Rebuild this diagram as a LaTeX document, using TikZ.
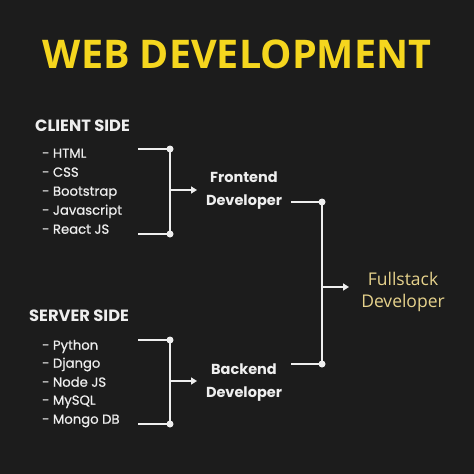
\documentclass[tikz,border=0pt]{standalone}
\usepackage{fontspec}
\setmainfont{Poppins}
\newfontfamily\titlefont{Open Sans}
\newfontfamily\fsfont{Open Sans}
\newfontfamily\itemfont[FakeBold=0.6]{Poppins}
\usetikzlibrary{arrows.meta}
\definecolor{bg}{HTML}{1C1C1C}
\definecolor{ttl}{HTML}{F5D61E}
\definecolor{fg}{HTML}{EEEEEE}
\definecolor{fs}{HTML}{E6D28C}
\tikzset{
  item/.style={anchor=mid west, inner sep=0pt, text=fg, font=\itemfont\fontsize{13.2}{15}\selectfont},
  head/.style={anchor=mid west, inner sep=0pt, text=fg, font=\bfseries\fontsize{16.3}{18}\selectfont},
  role/.style={align=center, inner sep=0pt, text=fg, font=\bfseries\fontsize{14.5}{23}\selectfont},
  wire/.style={draw=fg, line width=1.8pt},
  arr/.style={draw=fg, line width=1.8pt, -{Triangle[width=7pt,length=6pt]}},
  dot/.style={circle, fill=fg, inner sep=0pt, minimum size=7pt},
}
\begin{document}
\begin{tikzpicture}[x=1pt,y=-1pt]
\fill[bg] (0,0) rectangle (474,474);
\useasboundingbox (0,0) rectangle (474,474);

\node[text=ttl, font=\titlefont\bfseries\fontsize{39.5}{42}\selectfont] (title) at (237,54) {WEB DEVELOPMENT};

% client side
\node[head] (client) at (35,129) {CLIENT SIDE};
\node[item] (i1) at (42,155) {- HTML};
\node[item] (i2) at (42,174) {- CSS};
\node[item] (i3) at (42,193) {- Bootstrap};
\node[item] (i4) at (42,212) {- Javascript};
\node[item] (i5) at (42,231) {- React JS};

% server side
\node[head] (server) at (29,319) {SERVER SIDE};
\node[item] (j1) at (42,347) {- Python};
\node[item] (j2) at (42,365) {- Django};
\node[item] (j3) at (42,384) {- Node JS};
\node[item] (j4) at (42,402) {- MySQL};
\node[item] (j5) at (42,421) {- Mongo DB};

% roles
\node[role] (fe) at (244,191) {Frontend\\Developer};
\node[role] (be) at (244,383) {Backend\\Developer};
\node[align=center, inner sep=0pt, text=fs, font=\fsfont\fontsize{17.5}{22}\selectfont] (full) at (403,292) {Fullstack\\Developer};

% client bracket
\coordinate (ca) at (138,149);
\coordinate (cb) at (138,234);
\node[dot] (ct) at (170,149) {};
\node[dot] (cd) at (170,234) {};
\coordinate (cm) at (170,190);
\coordinate (fetip) at (197,190);
\draw[wire] (ca) -- (ct.center) -- (cd.center) -- (cb);
\draw[arr] (cm) -- (fetip);

% server bracket
\coordinate (sa) at (138,340);
\coordinate (sb) at (138,424);
\node[dot] (st) at (170,340) {};
\node[dot] (sd) at (170,424) {};
\coordinate (sm) at (170,381);
\coordinate (betip) at (197,381);
\draw[wire] (sa) -- (st.center) -- (sd.center) -- (sb);
\draw[arr] (sm) -- (betip);

% fullstack bracket
\coordinate (fa) at (291,202);
\coordinate (ba) at (291,364);
\node[dot] (ft) at (322,202) {};
\node[dot] (fb) at (322,364) {};
\coordinate (fm) at (322,287);
\coordinate (fulltip) at (349,287);
\draw[wire] (fa) -- (ft.center) -- (fb.center) -- (ba);
\draw[arr] (fm) -- (fulltip);
\end{tikzpicture}
\end{document}
